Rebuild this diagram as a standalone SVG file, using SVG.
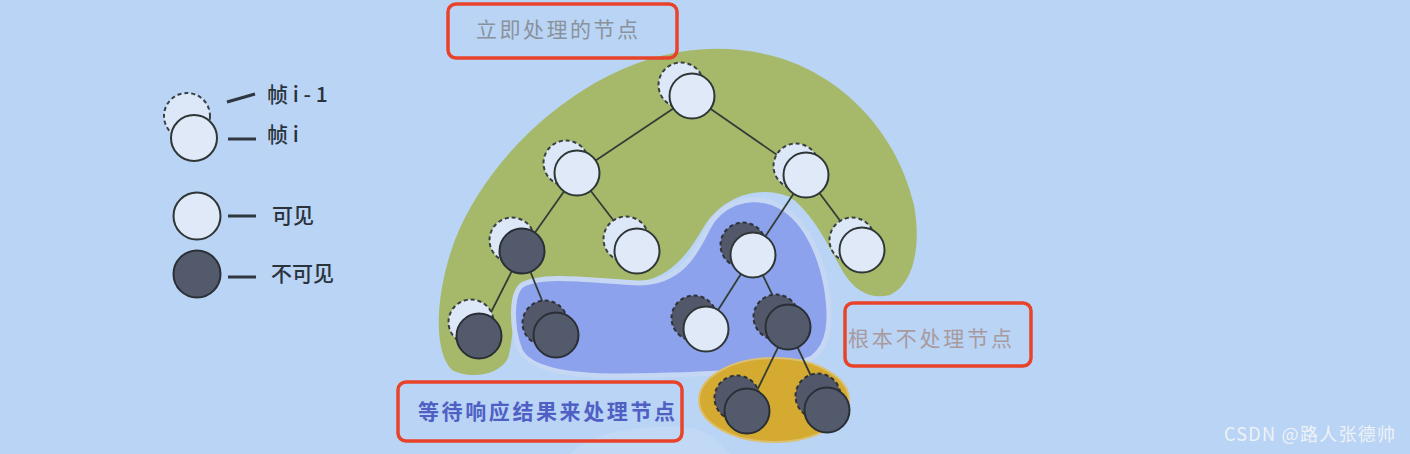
<svg xmlns="http://www.w3.org/2000/svg" width="1410" height="454" viewBox="0 0 1410 454">
<defs>
<style>
.bg{fill:#b9d4f4}
.box{fill:none;stroke:#e8432a;stroke-width:3.5}
.lbl{font-family:"Noto Sans CJK SC","Liberation Serif",serif;font-size:21px}
.leg{font-family:"Noto Sans CJK SC","Liberation Serif",serif;font-size:21px;font-weight:500;fill:#2a323c}
.edge{stroke:#333d35;stroke-width:1.8;fill:none}
.pw{fill:#dce7f7;stroke:#3a3f44;stroke-width:2;stroke-dasharray:4 3}
.pd{fill:#525869;stroke:#2e3238;stroke-width:2;stroke-dasharray:4 3}
.cw{fill:#dfe9f8;stroke:#2e3636;stroke-width:2}
.cd{fill:#535a6b;stroke:#2a2f36;stroke-width:2}
.lg{stroke:#2e3640;stroke-width:3}
</style>
</defs>
<rect class="bg" x="0" y="0" width="1410" height="454"/>
<path d="M570,454 C590,432 640,424 690,428 C712,432 722,445 730,454 Z" fill="#c2d9f5"/>

<g id="regions">
<path id="green" d="M452,370 C432,350 436,290 455,240 C480,175 540,110 610,75 C660,50 720,40 780,58 C845,78 898,135 914,205 C922,250 912,285 890,295 C870,300 855,290 845,275 C830,250 815,215 790,197 C760,185 725,195 705,225 C690,250 675,275 640,282 C600,288 545,278 525,290 C512,300 515,335 508,358 C500,375 470,380 452,370 Z" fill="#a6b96a"/>
<path id="blue" d="M522,285 C545,272 600,282 640,283 C680,282 695,255 708,228 C720,205 745,195 770,202 C800,212 818,245 826,285 C832,320 830,345 812,358 C780,372 700,375 620,376 C570,376 530,370 520,350 C512,330 510,295 522,285 Z" fill="#8da2ec" stroke="#c6d7f4" stroke-width="5"/>
<ellipse id="yellow" cx="774" cy="400" rx="75" ry="42" fill="#d4aa30" stroke="#dcc070" stroke-width="2"/>
</g>

<g id="connectors">
<line class="edge" x1="692" y1="96" x2="577" y2="173"/>
<line class="edge" x1="692" y1="96" x2="806" y2="175"/>
<line class="edge" x1="577" y1="173" x2="522" y2="251"/>
<line class="edge" x1="577" y1="173" x2="637" y2="251"/>
<line class="edge" x1="806" y1="175" x2="753" y2="255"/>
<line class="edge" x1="806" y1="175" x2="862" y2="250"/>
<line class="edge" x1="522" y1="251" x2="479" y2="336"/>
<line class="edge" x1="522" y1="251" x2="556" y2="335"/>
<line class="edge" x1="753" y1="255" x2="706" y2="329"/>
<line class="edge" x1="753" y1="255" x2="788" y2="327"/>
<line class="edge" x1="788" y1="327" x2="747" y2="411"/>
<line class="edge" x1="788" y1="327" x2="827" y2="410"/>
</g>

<g id="n-root"><circle class="pw" cx="681" cy="85" r="22.5"/><circle class="cw" cx="692" cy="96" r="22.5"/></g>
<g id="n-l2a"><circle class="pw" cx="566" cy="163" r="22.5"/><circle class="cw" cx="577" cy="173" r="22.5"/></g>
<g id="n-l2b"><circle class="pw" cx="796" cy="166" r="22.5"/><circle class="cw" cx="806" cy="175" r="22.5"/></g>
<g id="n-l3a"><circle class="pw" cx="512" cy="240" r="22.5"/><circle class="cd" cx="522" cy="251" r="22.5"/></g>
<g id="n-l3b"><circle class="pw" cx="626" cy="239" r="22.5"/><circle class="cw" cx="637" cy="251" r="22.5"/></g>
<g id="n-l3c"><circle class="pd" cx="743" cy="245" r="22.5"/><circle class="cw" cx="753" cy="255" r="22.5"/></g>
<g id="n-l3d"><circle class="pw" cx="852" cy="240" r="22.5"/><circle class="cw" cx="862" cy="250" r="22.5"/></g>
<g id="n-l4a"><circle class="pw" cx="471" cy="322" r="22.5"/><circle class="cd" cx="479" cy="336" r="22.5"/></g>
<g id="n-l4b"><circle class="pd" cx="545" cy="323" r="22.5"/><circle class="cd" cx="556" cy="335" r="22.5"/></g>
<g id="n-l4c"><circle class="pd" cx="694" cy="318" r="22.5"/><circle class="cw" cx="706" cy="329" r="22.5"/></g>
<g id="n-l4d"><circle class="pd" cx="776" cy="317" r="22.5"/><circle class="cd" cx="788" cy="327" r="22.5"/></g>
<g id="n-l5a"><circle class="pd" cx="737" cy="398" r="22.5"/><circle class="cd" cx="747" cy="411" r="22.5"/></g>
<g id="n-l5b"><circle class="pd" cx="818" cy="396" r="22.5"/><circle class="cd" cx="827" cy="410" r="22.5"/></g>

<g id="legend">
<circle class="pw" cx="187" cy="116" r="23"/>
<circle class="cw" cx="194" cy="138" r="23"/>
<line class="lg" x1="227" y1="102" x2="255" y2="94"/>
<text class="leg" x="267" y="102">帧 i - 1</text>
<line class="lg" x1="228" y1="139" x2="256" y2="139"/>
<text class="leg" x="267" y="142">帧 i</text>
<circle class="cw" cx="197" cy="216" r="23.5"/>
<line class="lg" x1="228" y1="216" x2="256" y2="216"/>
<text class="leg" x="272" y="223">可见</text>
<circle class="cd" cx="197" cy="274" r="23.5"/>
<line class="lg" x1="228" y1="277" x2="256" y2="277"/>
<text class="leg" x="271" y="281">不可见</text>
</g>

<g id="label-immediate">
<rect class="box" x="448" y="4" width="229" height="54" rx="8"/>
<text class="lbl" x="476" y="37" fill="#8a929c" textLength="162">立即处理的节点</text>
</g>
<g id="label-never">
<rect class="box" x="845" y="303" width="186" height="63" rx="8"/>
<text class="lbl" x="848" y="346" fill="#a89a9e" textLength="164">根本不处理节点</text>
</g>
<g id="label-wait">
<rect class="box" x="398" y="382" width="284" height="59" rx="8"/>
<text class="lbl" x="418" y="419" fill="#4f5fc4" font-weight="bold" textLength="257">等待响应结果来处理节点</text>
</g>

<text x="1224" y="441" font-family="'Noto Sans CJK SC','Liberation Sans',sans-serif" font-size="18" fill="#eef2f8" textLength="171">CSDN @路人张德帅</text>
</svg>
